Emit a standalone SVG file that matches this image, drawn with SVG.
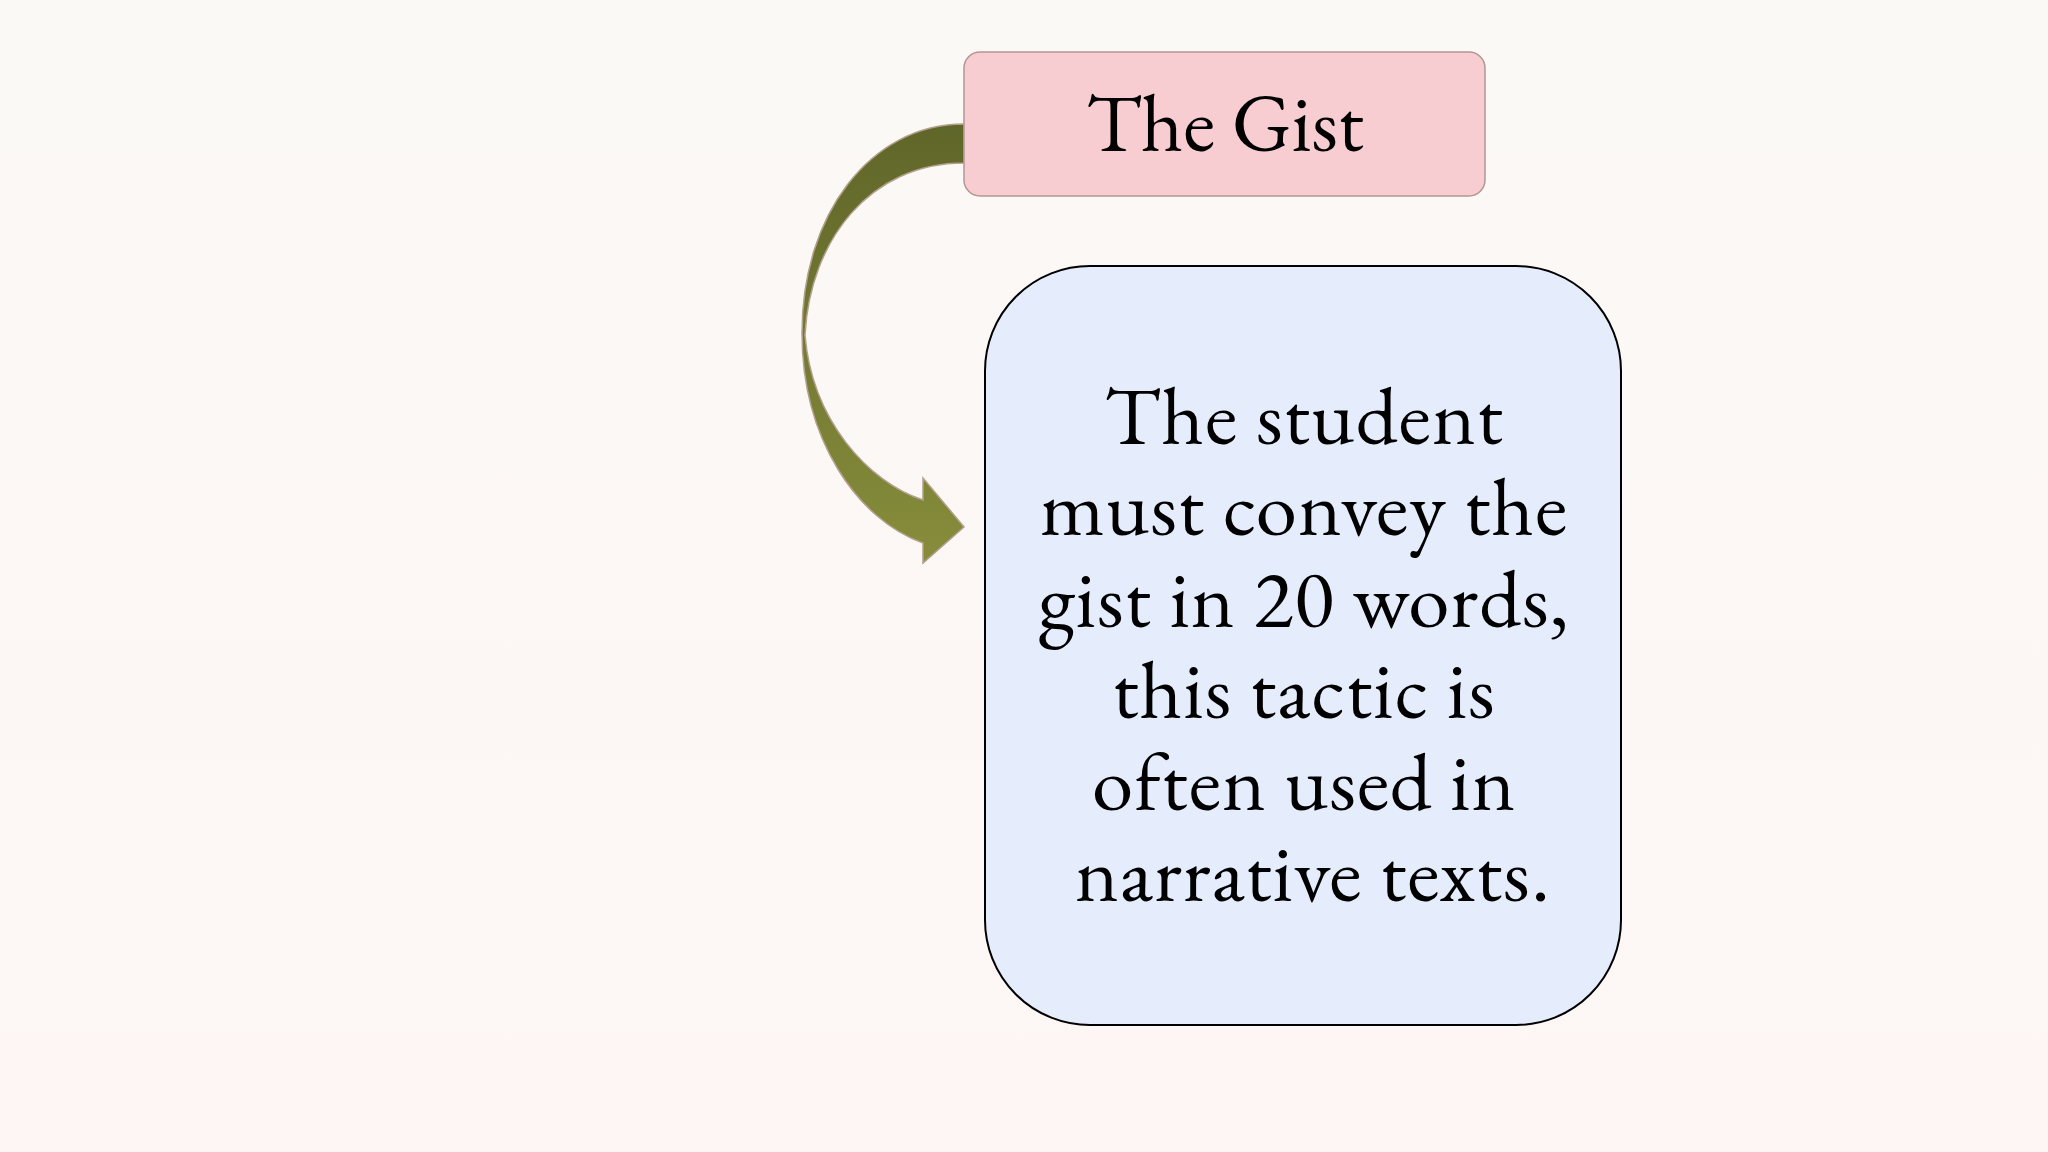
<svg xmlns="http://www.w3.org/2000/svg" width="2048" height="1152" viewBox="0 0 2048 1152">
<defs>
<linearGradient id="bg" x1="0" y1="0" x2="0" y2="1">
<stop offset="0" stop-color="#fbf9f5"/>
<stop offset="1" stop-color="#fdf6f5"/>
</linearGradient>
<linearGradient id="arr" x1="0" y1="124" x2="0" y2="563" gradientUnits="userSpaceOnUse">
<stop offset="0" stop-color="#5f6629"/>
<stop offset="1" stop-color="#878d3b"/>
</linearGradient>
<style>
.lbl{font-family:"EB Garamond","Liberation Serif","Times New Roman",serif;fill:#000;text-anchor:middle}
</style>
</defs>
<rect width="2048" height="1152" fill="url(#bg)"/>
<g id="connectors">
<path d="M964,124 C870,124 802,215 802,333 C802,440 858,520 923,543 L923,563 L964,527 L923,478 L923,500 C868,482 812,420 805,335 C810,240 870,163 964,163 Z" fill="url(#arr)" stroke="#b3a08c" stroke-width="1.5"/>
</g>
<g id="node-gist">
<rect x="964" y="52" width="521" height="144" rx="16" fill="#f8cdd2" stroke="#b39595" stroke-width="1.5"/>
<text class="lbl" x="1225" y="151" font-size="82">The Gist</text>
</g>
<g id="node-desc">
<rect x="985" y="266" width="636" height="759" rx="105" fill="#e5edfd" stroke="#000" stroke-width="2"/>
<text class="lbl" font-size="83" letter-spacing="1">
<tspan x="1313" y="444">The student</tspan>
<tspan x="1313" y="535">must convey the</tspan>
<tspan x="1313" y="627">gist in 20 words,</tspan>
<tspan x="1313" y="718">this tactic is</tspan>
<tspan x="1313" y="810">often used in</tspan>
<tspan x="1313" y="901">narrative texts.</tspan>
</text>
</g>
</svg>
